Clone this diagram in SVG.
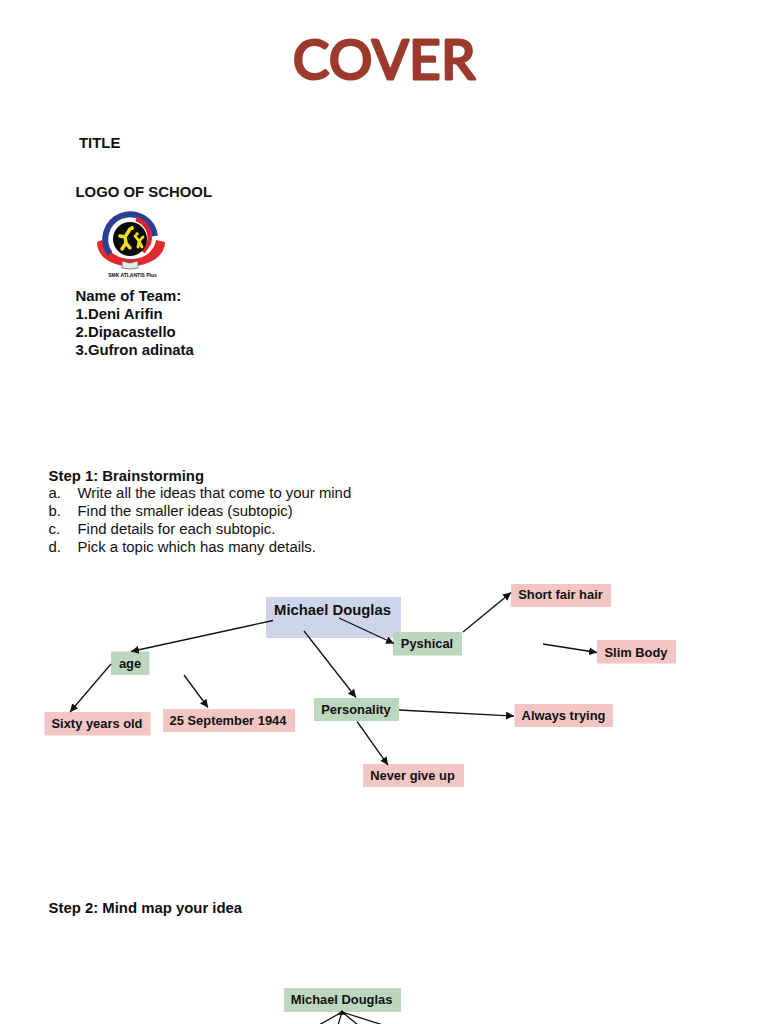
<svg xmlns="http://www.w3.org/2000/svg" width="768" height="1024" viewBox="0 0 768 1024">
<style>
text{font-family:"Liberation Sans",Arial,sans-serif;fill:#111}
.h{font-size:14.9px;font-weight:700}
.b{font-size:14.9px}
.n{font-size:12.9px;font-weight:700;text-anchor:middle}
.blue{fill:#ced5ea}.green{fill:#bdd7bf}.pink{fill:#f3c6c3}
.c line{stroke:#111;stroke-width:1.3;marker-end:url(#a)}
.fig{fill:none;stroke:#efe21a;stroke-linecap:round;stroke-linejoin:round}
</style>
<defs><marker id="a" markerUnits="userSpaceOnUse" markerWidth="9" markerHeight="8" refX="8" refY="4" orient="auto"><path d="M0 0L8 4L0 8Z" fill="#111"/></marker></defs>
<rect width="768" height="1024" fill="#fff"/>
<text x="293" y="79" textLength="182" lengthAdjust="spacing" style="font-family:Lato,'Liberation Sans',sans-serif;font-size:54px;font-weight:400;fill:#9c3a2e;stroke:#9c3a2e;stroke-width:3px;stroke-linejoin:round;stroke-linecap:round">COVER</text>
<text class="h" x="79" y="148">TITLE</text>
<text class="h" x="75.500" y="197">LOGO OF SCHOOL</text>
<g id="logo">
<path d="M102 240L97 242C97 256 110 266 130 266C150 266 165 256 165 242L156 240C154 252 144 259 131 259C118 259 108 252 102 240Z" fill="#e02a30"/>
<path d="M110 254A25 25 0 1 1 155 236" fill="none" stroke="#2b3f94" stroke-width="6"/>
<path d="M136 219A19.500 19.500 0 0 1 149 243L143 252" fill="none" stroke="#d6262c" stroke-width="4.500"/>
<circle cx="130" cy="239" r="17" fill="#0b0b0b"/>
<path class="fig" stroke-width="3.500" d="M120 236L125 237L130 229M125 237L126 243L122 249M126 243L130 248"/>
<circle cx="132" cy="228" r="2" fill="#efe21a"/>
<path class="fig" stroke-width="2.800" d="M135 236L139 241L143 237M139 241L138 247M139 241L142 247"/>
<circle cx="137" cy="234" r="1.800" fill="#efe21a"/>
<path d="M122 268V261L130 263L138 261V268L130 269Z" fill="#e8e8e8" stroke="#555" stroke-width=".7"/>
<text x="132.500" y="276.500" text-anchor="middle" style="font-size:5px;font-weight:700">SMK ATLANTIS Plus</text>
</g>
<text class="h" x="75.500" y="301">Name of Team:</text>
<text class="h" x="75.500" y="319">1.Deni Arifin</text>
<text class="h" x="75.500" y="337">2.Dipacastello</text>
<text class="h" x="75.500" y="355">3.Gufron adinata</text>
<text class="h" x="48.500" y="481">Step 1: Brainstorming</text>
<text class="b" x="48.500" y="498">a.</text><text class="b" x="77.500" y="498">Write all the ideas that come to your mind</text>
<text class="b" x="48.500" y="516">b.</text><text class="b" x="77.500" y="516">Find the smaller ideas (subtopic)</text>
<text class="b" x="48.500" y="534">c.</text><text class="b" x="77.500" y="534">Find details for each subtopic.</text>
<text class="b" x="48.500" y="552">d.</text><text class="b" x="77.500" y="552">Pick a topic which has many details.</text>
<text class="h" x="48.500" y="913">Step 2: Mind map your idea</text>
<g id="n-root"><rect class="blue" x="266" y="597" width="135" height="41"/><text x="332.500" y="615" text-anchor="middle" style="font-size:14.800px;font-weight:700">Michael Douglas</text></g>
<g id="n-age"><rect class="green" x="111" y="651.500" width="38.500" height="23.500"/><text class="n" x="130" y="668">age</text></g>
<g id="n-sixty"><rect class="pink" x="44.500" y="712" width="106" height="23.500"/><text class="n" x="97" y="728">Sixty years old</text></g>
<g id="n-date"><rect class="pink" x="163" y="709" width="132" height="23"/><text class="n" x="228" y="725">25 September 1944</text></g>
<g id="n-personality"><rect class="green" x="314" y="698" width="85" height="23"/><text class="n" x="356" y="714">Personality</text></g>
<g id="n-pyshical"><rect class="green" x="393" y="632" width="69" height="23.500"/><text class="n" x="427" y="648">Pyshical</text></g>
<g id="n-hair"><rect class="pink" x="511" y="584" width="100" height="23"/><text class="n" x="560.500" y="599">Short fair hair</text></g>
<g id="n-slim"><rect class="pink" x="597" y="640" width="79" height="23.500"/><text class="n" x="636" y="657">Slim Body</text></g>
<g id="n-always"><rect class="pink" x="514.500" y="704" width="98.500" height="23"/><text class="n" x="563.500" y="720">Always trying</text></g>
<g id="n-never"><rect class="pink" x="363" y="764" width="101" height="23"/><text class="n" x="412.500" y="780">Never give up</text></g>
<g id="n-map"><rect class="green" x="284" y="988" width="117" height="24"/><text class="n" x="341.500" y="1004">Michael Douglas</text></g>
<g id="connectors" class="c">
<line x1="273" y1="620.500" x2="131" y2="651.500"/>
<line x1="339" y1="618" x2="394" y2="643.500"/>
<line x1="304" y1="631" x2="356" y2="697.500"/>
<line x1="111" y1="664" x2="70" y2="712"/>
<line x1="184" y1="675" x2="208" y2="707.500"/>
<line x1="463" y1="632" x2="511" y2="592.500"/>
<line x1="543" y1="644" x2="597" y2="652.500"/>
<line x1="399" y1="710" x2="514" y2="716"/>
<line x1="357" y1="721.500" x2="388" y2="765"/>
<g style="stroke:#111;stroke-width:1.3"><path d="M342 1012L319 1025M342 1012L338 1025M342 1012L358 1025M342 1012L383 1025" fill="none"/><path d="M342 1011L339 1014L345 1014Z" fill="#111"/></g>
</g>
</svg>
